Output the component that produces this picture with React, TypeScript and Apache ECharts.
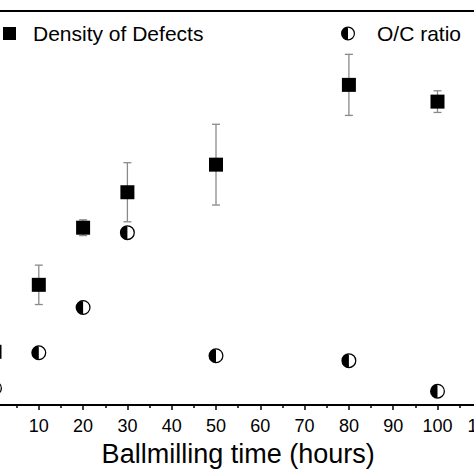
import React, { useEffect, useRef } from 'react';
import * as echarts from 'echarts';

// Ballmilling time (hours)
const hours = [0, 10, 20, 30, 50, 80, 100];
// Density of defects (left scale) with its standard deviation
const defectDensity = [0.54, 1.22, 1.8, 2.16, 2.44, 3.25, 3.08];
const defectError = [0.08, 0.2, 0.08, 0.3, 0.41, 0.31, 0.11];
// O/C atomic ratio (right scale)
const ocRatio = [0.017, 0.053, 0.099, 0.175, 0.05, 0.045, 0.014];

const X_MIN = 0;
const X_MAX = 110;
const X_STEP = 10;

const FONT = '"Liberation Sans", Arial, Helvetica, sans-serif';

// Circle with its left half filled and a solid outline
const HALF_CIRCLE =
  'path://M10 0A10 10 0 1 1 10 20A10 10 0 1 1 10 0Z' +
  'M10 1.7A8.3 8.3 0 1 0 10 18.3A8.3 8.3 0 1 0 10 1.7Z' +
  'M10 20A10 10 0 0 1 10 0Z';

export default function App() {
  const ref = useRef<HTMLDivElement>(null);

  useEffect(() => {
    if (!ref.current) return;
    const chart = echarts.init(ref.current, null, { renderer: 'svg' });

    const errorData = hours.map((h, i) => [h, defectDensity[i], defectError[i]]);

    chart.setOption({
      animation: false,
      backgroundColor: '#fff',
      grid: {
        left: 34.5,
        width: 487.3,
        top: 11,
        height: 394,
        outerBoundsMode: 'none',
        containLabel: false,
      },
      legend: [
        {
          data: [{ name: 'Density of Defects', icon: 'rect' }],
          left: 43,
          top: 23,
          padding: 0,
          itemWidth: 13,
          itemHeight: 13,
          selectedMode: false,
          textStyle: { fontSize: 21, color: '#000', fontFamily: FONT, padding: [0, 0, 0, 12] },
        },
        {
          data: [{ name: 'O/C ratio', icon: HALF_CIRCLE }],
          left: 381,
          top: 23,
          padding: 0,
          itemWidth: 14,
          itemHeight: 14,
          selectedMode: false,
          textStyle: { fontSize: 21, color: '#000', fontFamily: FONT, padding: [0, 0, 0, 17] },
        },
      ],
      xAxis: [
        {
          type: 'value',
          min: X_MIN,
          max: X_MAX,
          interval: X_STEP,
          position: 'bottom',
          axisLine: { onZero: false, lineStyle: { color: '#000', width: 2 } },
          axisTick: { length: 5, lineStyle: { color: '#000', width: 1.5 } },
          minorTick: { show: true, splitNumber: 2, length: 3, lineStyle: { color: '#000', width: 1.5 } },
          splitLine: { show: false },
          axisLabel: { fontSize: 18, color: '#000', margin: 12, fontFamily: FONT, showMinLabel: false },
          name: 'Ballmilling time (hours)',
          nameLocation: 'middle',
          nameGap: 35,
          nameTextStyle: { fontSize: 27, color: '#000', fontFamily: FONT },
        },
        {
          type: 'value',
          min: X_MIN,
          max: X_MAX,
          interval: X_STEP,
          position: 'top',
          axisLine: { onZero: false, lineStyle: { color: '#000', width: 2 } },
          axisTick: { show: false },
          axisLabel: { show: false },
          splitLine: { show: false },
        },
      ],
      yAxis: [
        { type: 'value', min: 0, max: 4, show: false },
        { type: 'value', min: 0, max: 0.4, show: false },
      ],
      series: [
        {
          name: 'Defect error',
          type: 'custom',
          xAxisIndex: 0,
          yAxisIndex: 0,
          silent: true,
          z: 1,
          data: errorData,
          renderItem: (params: any, api: any) => {
            const x = api.value(0);
            const y = api.value(1);
            const e = api.value(2);
            const top = api.coord([x, y + e]);
            const bot = api.coord([x, y - e]);
            const hw = 4;
            const style = { stroke: '#8a8a8a', lineWidth: 1.3 };
            return {
              type: 'group',
              children: [
                { type: 'line', shape: { x1: top[0], y1: top[1], x2: bot[0], y2: bot[1] }, style },
                { type: 'line', shape: { x1: top[0] - hw, y1: top[1], x2: top[0] + hw, y2: top[1] }, style },
                { type: 'line', shape: { x1: bot[0] - hw, y1: bot[1], x2: bot[0] + hw, y2: bot[1] }, style },
              ],
            };
          },
        },
        {
          name: 'Density of Defects',
          type: 'scatter',
          xAxisIndex: 0,
          yAxisIndex: 0,
          symbol: 'rect',
          symbolSize: 14,
          z: 3,
          itemStyle: { color: '#000', opacity: 1 },
          data: hours.map((h, i) => [h, defectDensity[i]]),
        },
        {
          name: 'O/C ratio',
          type: 'scatter',
          xAxisIndex: 0,
          yAxisIndex: 1,
          symbol: HALF_CIRCLE,
          symbolSize: 15,
          z: 3,
          itemStyle: { color: '#000', opacity: 1 },
          data: hours.map((h, i) => [h, ocRatio[i]]),
        },
      ],
    });

    return () => chart.dispose();
  }, []);

  return (
    <div
      ref={ref}
      style={{ position: 'fixed', left: -40, top: 0, width: 560, height: 474, background: '#fff' }}
    />
  );
}
